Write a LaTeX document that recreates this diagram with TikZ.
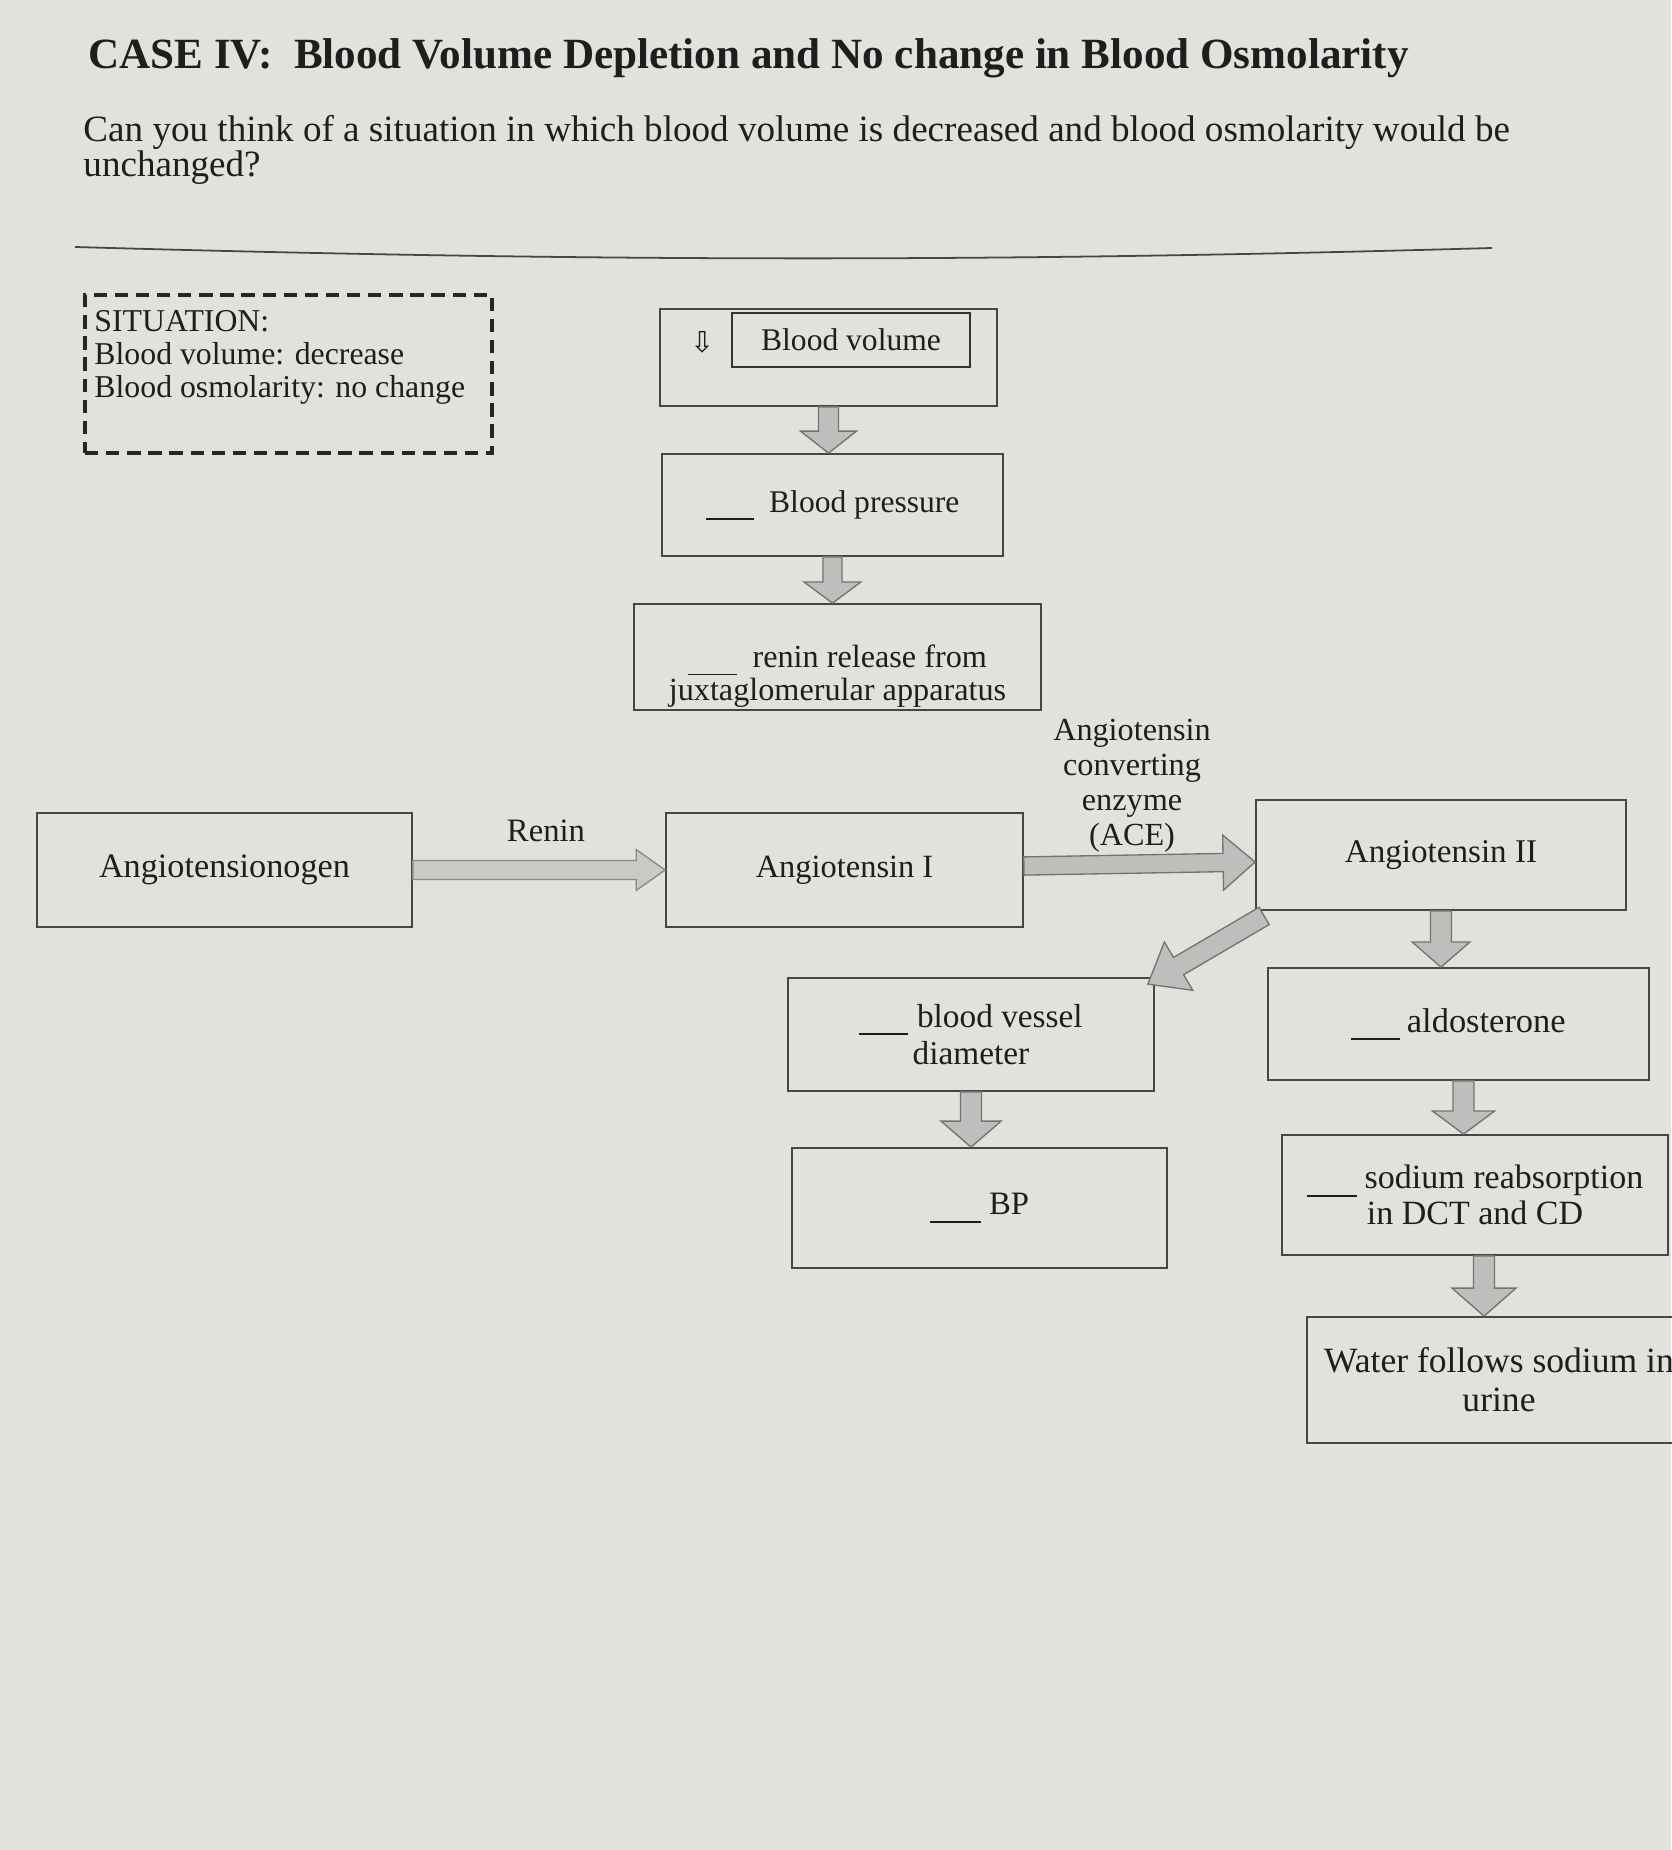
\documentclass[tikz,border=0pt]{standalone}
\usepackage{fontspec}
\setmainfont{Liberation Serif}
\newfontfamily\symfont{DejaVu Sans}
\usetikzlibrary{calc}
\definecolor{paper}{RGB}{227,225,219}
\definecolor{ink}{RGB}{70,70,70}
\definecolor{txtc}{RGB}{30,30,30}
\definecolor{arrfill}{RGB}{190,190,188}
\definecolor{arredge}{RGB}{115,115,115}
\newcommand\blank[1]{\rule[-3.5pt]{#1}{0.8pt}}
% block arrow: [style]{from}{to}{shaft half width}{head half width}{head length}
\newcommand\blockarrow[6][]{%
  \coordinate (bh) at ($(#3)!#6!(#2)$);
  \draw[blockarr,#1] ($(#2)!#4!90:(#3)$) -- ($(bh)!#4!90:(#3)$) -- ($(bh)!#5!90:(#3)$) -- (#3)
    -- ($(bh)!#5!-90:(#3)$) -- ($(bh)!#4!-90:(#3)$) -- ($(#2)!#4!-90:(#3)$) -- cycle;}
\tikzset{
  box/.style={draw=ink, line width=0.8pt, inner sep=0pt, align=center, text=txtc,
    font=\fontsize{15}{17}\selectfont},
  txt/.style={inner sep=0pt, align=center, text=txtc, font=\fontsize{15}{17}\selectfont},
  sitbox/.style={draw=black!85, line width=1.8pt, dash pattern=on 6pt off 3.5pt, inner sep=0pt},
  blockarr/.style={fill=arrfill, draw=arredge, line width=0.6pt, line join=miter},
}
\begin{document}
\begin{tikzpicture}[x=0.45pt, y=-0.45pt]
\fill[paper] (0,0) rectangle (1671,1850);
\useasboundingbox (0,0) rectangle (1671,1850);

% header
\node[txt, anchor=base west, font=\bfseries\fontsize{19.4}{22}\selectfont] (title) at (88,69)
  {CASE IV:\ \ Blood Volume Depletion and No change in Blood Osmolarity};
\node[txt, anchor=north west, align=left, font=\fontsize{16.7}{15.8}\selectfont] (question) at (83,115)
  {Can you think of a situation in which blood volume is decreased and blood osmolarity would be\\unchanged?};
\draw[ink, line width=0.8pt] (75,247) .. controls (600,262) and (1000,262) .. (1492,248);

% situation
\node[sitbox, minimum width=183.15pt, minimum height=71.1pt] (sit) at (288.5,374) {};
\node[txt, anchor=north west, align=left, font=\fontsize{14.3}{14.8}\selectfont] (sittxt) at (94,310)
  {SITUATION:\\Blood volume: decrease\\Blood osmolarity: no change};

% top chain
\node[box, minimum width=151.65pt, minimum height=43.65pt] (bv) at (828.5,357.5) {};
\node[box, line width=1.3pt, draw=black!80, minimum width=107.1pt, minimum height=24.3pt,
  font=\fontsize{14.2}{17}\selectfont] (bvi) at (851,340) {Blood volume};
\node[txt, font=\symfont\fontsize{13}{14}\selectfont] (dn) at (703,342) {⇩};
\node[box, minimum width=153.45pt, minimum height=45.9pt, font=\fontsize{14.2}{17}\selectfont] (bp)
  at (832.5,505) {\blank{21.6pt}\hspace{7pt}Blood pressure};
\node[box, minimum width=183.15pt, minimum height=47.7pt] (ren) at (837.5,657) {};
\node[txt, font=\fontsize{14.5}{14.6}\selectfont] (rentxt) at (837.5,676)
  {\blank{22pt}\hspace{7pt}renin release from\\juxtaglomerular apparatus};

% angiotensin row
\node[box, minimum width=168.75pt, minimum height=51.3pt, font=\fontsize{15.4}{17}\selectfont] (ang0)
  at (224.5,870) {Angiotensionogen};
\node[box, minimum width=160.65pt, minimum height=51.3pt, font=\fontsize{14.6}{17}\selectfont] (ang1)
  at (844.5,870) {Angiotensin I};
\node[box, minimum width=166.5pt, minimum height=49.5pt, font=\fontsize{14.9}{17}\selectfont] (ang2)
  at (1441,855) {Angiotensin II};
\node[txt, font=\fontsize{14.7}{17}\selectfont] (reninlbl) at (546,831) {Renin};
\node[txt, font=\fontsize{14.5}{15.75}\selectfont] (acelbl) at (1132,786)
  {Angiotensin\\converting\\enzyme\\(ACE)};

% lower boxes
\node[box, minimum width=164.7pt, minimum height=50.85pt] (ves) at (971,1034.5)
  {\blank{22pt}\hspace{4pt}blood vessel\\diameter};
\node[box, minimum width=168.75pt, minimum height=54pt, font=\fontsize{14.7}{17}\selectfont] (bpb)
  at (979.5,1208) {\blank{23pt}\hspace{3.6pt}BP};
\node[box, minimum width=171.45pt, minimum height=50.4pt, font=\fontsize{15.5}{17}\selectfont] (ald)
  at (1458.5,1024) {\blank{22pt}\hspace{3pt}aldosterone};
\node[box, minimum width=173.7pt, minimum height=54pt, font=\fontsize{15.3}{16}\selectfont] (sod)
  at (1475,1195) {\blank{22.5pt}\hspace{3.6pt}sodium reabsorption\\in DCT and CD};
\node[box, minimum width=172.8pt, minimum height=56.7pt, font=\fontsize{16}{17.5}\selectfont] (wat)
  at (1499,1380) {Water follows sodium in\\urine};

% block arrows
\blockarrow{bv.south}{bv.south |- bp.north}{4.5pt}{12.6pt}{9.9pt}
\blockarrow{bp.south}{bp.south |- ren.north}{4.3pt}{12.8pt}{9.5pt}
\blockarrow[fill=arrfill!70!paper, draw=arredge!80!paper]{ang0.east}{ang1.west}{4.3pt}{9.2pt}{13pt}
\coordinate (acestart) at ($(ang1.east)+(0,-4)$);
\coordinate (acetip) at ($(ang2.west)+(0,7)$);
\blockarrow{acestart}{acetip}{4.1pt}{12.4pt}{14.4pt}
\coordinate (dgs) at ($(ang2.south west)+(9,5)$);
\coordinate (dgt) at ($(ves.north east)+(-7,7)$);
\blockarrow{dgs}{dgt}{4.5pt}{12.6pt}{16pt}
\blockarrow{ang2.south}{ang2.south |- ald.north}{4.7pt}{13pt}{11.3pt}
\blockarrow{ves.south}{ves.south |- bpb.north}{4.7pt}{13.5pt}{11.7pt}
\coordinate (as) at ($(ald.south)+(5,0)$);
\blockarrow{as}{as |- sod.north}{4.7pt}{14pt}{10.4pt}
\coordinate (ss) at ($(sod.south)+(9,0)$);
\blockarrow{ss}{ss |- wat.north}{4.7pt}{14.4pt}{12.6pt}
\end{tikzpicture}
\end{document}
